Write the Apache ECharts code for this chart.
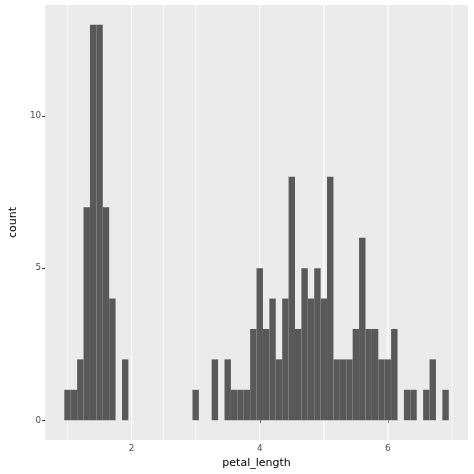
<!DOCTYPE html>
<html>
<head>
<meta charset="utf-8">
<script src="https://cdn.jsdelivr.net/npm/echarts@6/dist/echarts.min.js"></script>
<style>html,body{margin:0;padding:0;background:#fff}#c{width:474px;height:474px}</style>
</head>
<body>
<div id="c"></div>
<script>
// iris petal_length histogram, binwidth 0.1
const binCenters = [1.0,1.1,1.2,1.3,1.4,1.5,1.6,1.7,1.8,1.9,
  3.0,3.1,3.2,3.3,3.4,3.5,3.6,3.7,3.8,3.9,
  4.0,4.1,4.2,4.3,4.4,4.5,4.6,4.7,4.8,4.9,
  5.0,5.1,5.2,5.3,5.4,5.5,5.6,5.7,5.8,5.9,
  6.0,6.1,6.2,6.3,6.4,6.5,6.6,6.7,6.8,6.9];
const counts = [1,1,2,7,13,13,7,4,0,2,
  1,0,0,2,0,2,1,1,1,3,
  5,3,4,2,4,8,3,5,4,5,
  4,8,2,2,2,3,6,3,3,2,
  2,3,0,1,1,0,1,2,1,1];
counts[48] = 0;
const binWidth = 0.1;
const xMajor = [2, 4, 6];
const xMinor = [1, 3, 5, 7];
const yMajor = [0, 5, 10];
const yMinor = [2.5, 7.5, 12.5];

const xMin = 0.65, xMax = 7.25, yMin = -0.65, yMax = 13.65;

const chart = echarts.init(document.getElementById('c'));

const gridLines = [];
xMinor.forEach(v => gridLines.push([v, 'x', 0.6]));
yMinor.forEach(v => gridLines.push([v, 'y', 0.6]));
xMajor.forEach(v => gridLines.push([v, 'x', 1.1]));
yMajor.forEach(v => gridLines.push([v, 'y', 1.1]));

chart.setOption({
  animation: false,
  grid: {left: 34, right: 6, top: 5, bottom: 31, show: true, backgroundColor: '#EBEBEB', borderWidth: 0},
  xAxis: {
    type: 'value', min: xMin, max: xMax,
    name: 'petal_length', nameLocation: 'middle', nameGap: 18,
    nameTextStyle: {color: '#000', fontSize: 11, fontFamily: 'DejaVu Sans'},
    axisLine: {show: false},
    axisTick: {show: true, customValues: xMajor, length: 3, lineStyle: {color: '#333'}},
    axisLabel: {customValues: xMajor, color: '#4D4D4D', fontSize: 8.8, margin: 4, fontFamily: 'DejaVu Sans'},
    splitLine: {show: false}
  },
  yAxis: {
    type: 'value', min: yMin, max: yMax,
    name: 'count', nameLocation: 'middle', nameGap: 22, nameRotate: 90,
    nameTextStyle: {color: '#000', fontSize: 11, fontFamily: 'DejaVu Sans'},
    axisLine: {show: false},
    axisTick: {show: true, customValues: yMajor, length: 3, lineStyle: {color: '#333'}},
    axisLabel: {customValues: yMajor, color: '#4D4D4D', fontSize: 8.8, margin: 4, fontFamily: 'DejaVu Sans'},
    splitLine: {show: false}
  },
  series: [{
    type: 'custom',
    silent: true,
    data: gridLines,
    renderItem: function (params, api) {
      const v = api.value(0);
      const horiz = api.value(1) === 'y';
      const a = horiz ? api.coord([xMin, v]) : api.coord([v, yMin]);
      const b = horiz ? api.coord([xMax, v]) : api.coord([v, yMax]);
      return {type: 'line', shape: {x1: a[0], y1: a[1], x2: b[0], y2: b[1]},
        style: {stroke: '#fff', lineWidth: api.value(2)}};
    },
    encode: {x: 0}
  }, {
    type: 'custom',
    data: binCenters.map((c, i) => [c, counts[i]]),
    renderItem: function (params, api) {
      const c = api.value(0), n = api.value(1);
      if (!n) return null;
      const p0 = api.coord([c - binWidth / 2, n]);
      const p1 = api.coord([c + binWidth / 2, 0]);
      return {type: 'rect', shape: {x: p0[0], y: p0[1], width: p1[0] - p0[0], height: p1[1] - p0[1]},
        style: {fill: '#595959'}};
    },
    encode: {x: 0, y: 1}
  }]
});
</script>
</body>
</html>
